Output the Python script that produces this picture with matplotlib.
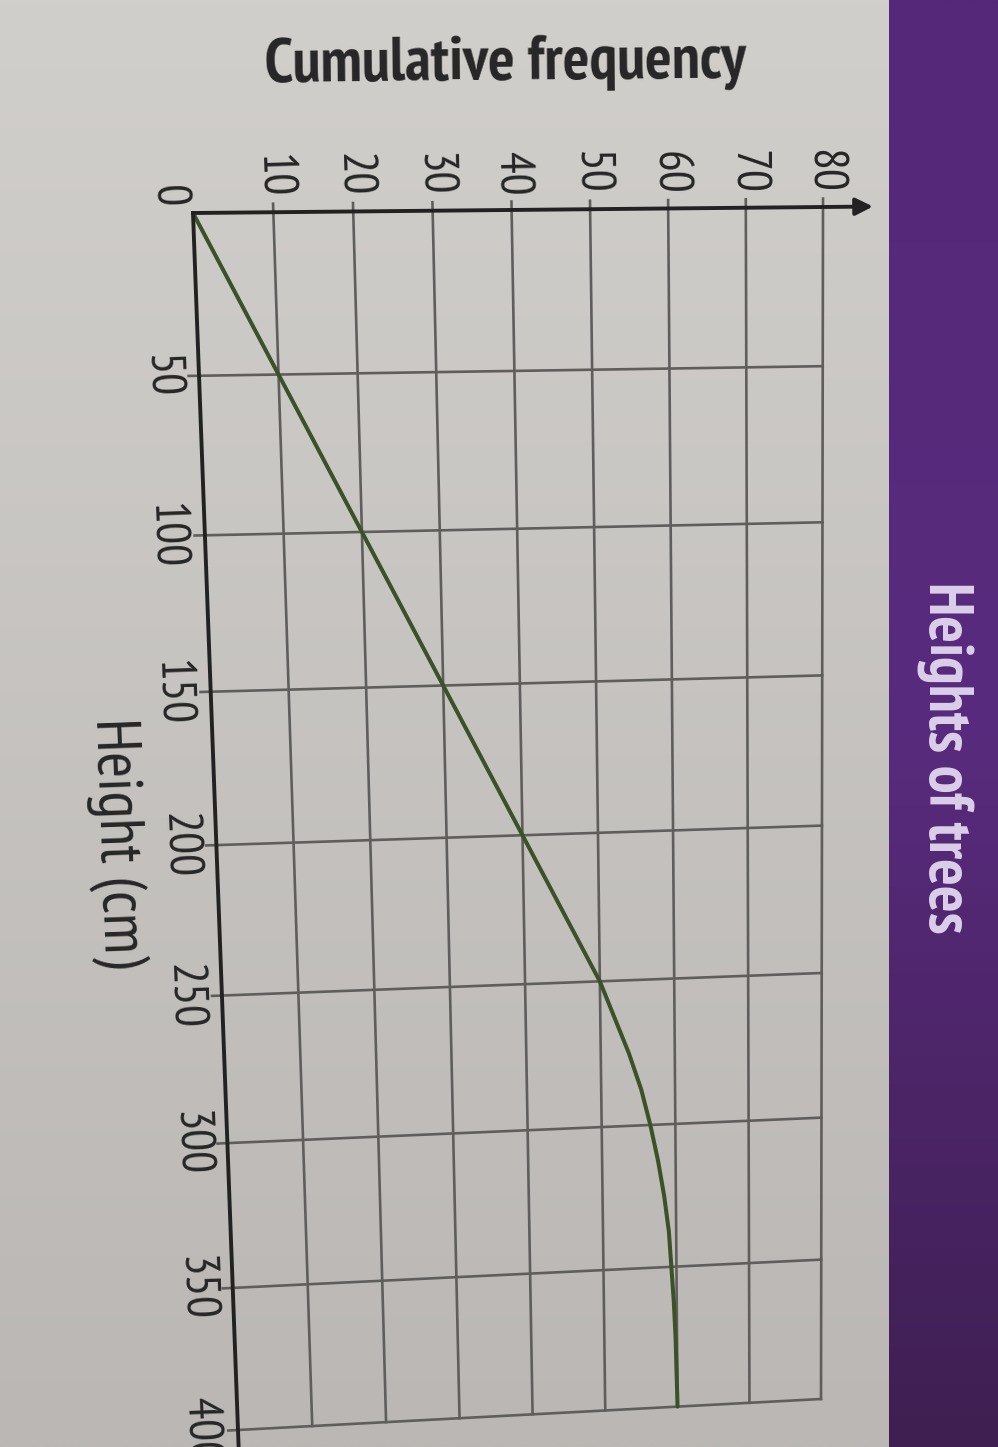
import numpy as np
import matplotlib
matplotlib.use("Agg")
import matplotlib.pyplot as plt
from matplotlib.transforms import Transform
from matplotlib.colors import to_rgb
from matplotlib import font_manager as fm

# ---------------- data ----------------
heights = [0, 50, 100, 150, 200, 250, 262.5, 275, 287.5, 300, 312.5, 325, 337.5,
           350, 362.5, 375, 387.5, 400]
cum_freq = [0, 10, 20, 30, 40, 50, 51.9, 53.8, 55.4, 56.6, 57.6, 58.4, 59.0,
            59.3, 59.6, 59.8, 59.9, 60.0]

cf_ticks = [10, 20, 30, 40, 50, 60, 70, 80]
cf_tick_labels = ["10", "20", "30", "40", "50", "60", "70", "80"]
height_ticks = [50, 100, 150, 200, 250, 300, 350, 400]
height_tick_labels = ["50", "100", "150", "200", "250", "300", "350", "400"]
origin_label = "0"

title = "Heights of trees"
xlabel = "Height (cm)"
ylabel = "Cumulative frequency"

CF_MAX = 80
H_MAX = 400

# ---------------- style / layout ----------------
W, H = 998, 1447
BG_TOP, BG_BOTTOM = "#d1cfcc", "#bab7b4"
PURPLE_STOPS = ["#552879", "#592b7e", "#3f1f52"]
BANNER_X = 889
GRID_C = "#605e5c"
AXIS_C = "#222222"
CURVE_C = "#3b5228"
TEXT_C = "#262626"

avail = {f.name for f in fm.fontManager.ttflist}
NARROW = "DejaVu Sans"
for cand in ["PT Sans Narrow", "Roboto Condensed", "Fira Sans Condensed",
             "Open Sans Condensed", "Archivo Narrow", "Liberation Sans Narrow",
             "Liberation Sans"]:
    if cand in avail:
        NARROW = cand
        break
FAM = [NARROW, "DejaVu Sans"]

# photographed page: chart corners in image pixels (x, y from top)
CORNERS_IMG = {
    (0, 0): (193, 213),
    (CF_MAX, 0): (823, 207),
    (0, H_MAX): (238, 1430),
    (CF_MAX, H_MAX): (821, 1399),
}


class Perspective(Transform):
    input_dims = 2
    output_dims = 2
    is_separable = False
    has_inverse = False

    def __init__(self, M):
        super().__init__()
        self._M = np.asarray(M, float)

    def transform_non_affine(self, values):
        v = np.asarray(values, float)
        one_d = v.ndim == 1
        v = v.reshape(-1, 2)
        p = np.column_stack([v, np.ones(len(v))]) @ self._M.T
        out = p[:, :2] / p[:, 2:3]
        return out.reshape(-1) if one_d else out


def homography(src, dst):
    A, b = [], []
    for (x, y), (u, v) in zip(src, dst):
        A.append([x, y, 1, 0, 0, 0, -u * x, -u * y]); b.append(u)
        A.append([0, 0, 0, x, y, 1, -v * x, -v * y]); b.append(v)
    h = np.linalg.solve(np.array(A, float), np.array(b, float))
    return np.append(h, 1.0).reshape(3, 3)


def vgradient(colors, n=256):
    cols = np.array([to_rgb(c) for c in colors])
    t = np.linspace(0, 1, n)
    pos = np.linspace(0, 1, len(cols))
    arr = np.stack([np.interp(t, pos, cols[:, k]) for k in range(3)], axis=-1)
    return arr[:, None, :]


fig = plt.figure(figsize=(W / 100, H / 100), dpi=100)
fig.patch.set_facecolor(BG_BOTTOM)

# background page and purple banner
bg = fig.add_axes([0, 0, 1, 1], zorder=-5)
bg.axis("off")
bg.imshow(vgradient([BG_TOP, BG_BOTTOM]), extent=(0, 1, 0, 1), aspect="auto",
          origin="upper", interpolation="bilinear")
bg.imshow(vgradient(PURPLE_STOPS), extent=(BANNER_X / W, 1, 0, 1), aspect="auto",
          origin="upper", interpolation="bilinear")
bg.set_xlim(0, 1)
bg.set_ylim(0, 1)

ax = fig.add_axes([0, 0, 1, 1])
ax.set_autoscale_on(False)
ax.set_xlim(0, CF_MAX)
ax.set_ylim(H_MAX, 0)
ax.axis("off")

keys = list(CORNERS_IMG.keys())
src = ax.transData.transform(np.array(keys, float))
dst = np.array([(CORNERS_IMG[k][0], H - CORNERS_IMG[k][1]) for k in keys], float)
T = ax.transData + Perspective(homography(src, dst))


def local_angle(cf, h, along="h"):
    p0 = T.transform((cf, h))
    p1 = T.transform((cf, h + 10)) if along == "h" else T.transform((cf + 5, h))
    return np.degrees(np.arctan2(p1[1] - p0[1], p1[0] - p0[0]))


# grid + ticks
TICK_H = -2.6
TICK_CF = -1.3
for c in cf_ticks:
    ax.plot([c, c], [TICK_H, H_MAX], color=GRID_C, lw=1.9, transform=T, clip_on=False, zorder=1)
for hv in height_ticks:
    ax.plot([TICK_CF, CF_MAX], [hv, hv], color=GRID_C, lw=1.9, transform=T, clip_on=False, zorder=1)

# axes
ax.plot([0, 0], [0, H_MAX + 12], color=AXIS_C, lw=2.8, transform=T, clip_on=False, zorder=3)
ax.annotate("", xy=(CF_MAX + 6.5, 0), xytext=(0, 0), xycoords=T, textcoords=T,
            arrowprops=dict(arrowstyle="-|>", color=AXIS_C, lw=2.8, shrinkA=0, shrinkB=0,
                            mutation_scale=26), zorder=3)

# curve
ax.plot(cum_freq, heights, color=CURVE_C, lw=2.9, transform=T, clip_on=False, zorder=2,
        solid_joinstyle="round", solid_capstyle="round")

# tick labels
TICK_FS = 35
for c, lab in zip(cf_ticks, cf_tick_labels):
    ax.text(c, -4.3, lab, transform=T, rotation=local_angle(c, 0), ha="center", va="bottom",
            fontsize=TICK_FS, family=FAM, color=TEXT_C)
for hv, lab in zip(height_ticks, height_tick_labels):
    ax.text(-2.0, hv, lab, transform=T, rotation=local_angle(0, hv), ha="right", va="center",
            fontsize=TICK_FS, family=FAM, color=TEXT_C)
ax.text(-3.1, -5.4, origin_label, transform=T, rotation=local_angle(0, 0), ha="center",
        va="center", fontsize=TICK_FS, family=FAM, color=TEXT_C)

# axis titles
fig.text(505 / W, 1 - 64 / H, ylabel, rotation=local_angle(40, 0, along="cf"), ha="center",
         va="center", fontsize=45, fontweight="bold", family=FAM, color=TEXT_C)
fig.text(116 / W, 1 - 843 / H, xlabel, rotation=local_angle(0, 200), ha="center",
         va="center", fontsize=45, family=FAM, color=TEXT_C)
fig.text(944 / W, 1 - 758 / H, title, rotation=-90, ha="center", va="center",
         fontsize=45, fontweight="bold", family=FAM, color="#dccfe9")

fig.savefig("out.png", dpi=100, facecolor=BG_BOTTOM)
